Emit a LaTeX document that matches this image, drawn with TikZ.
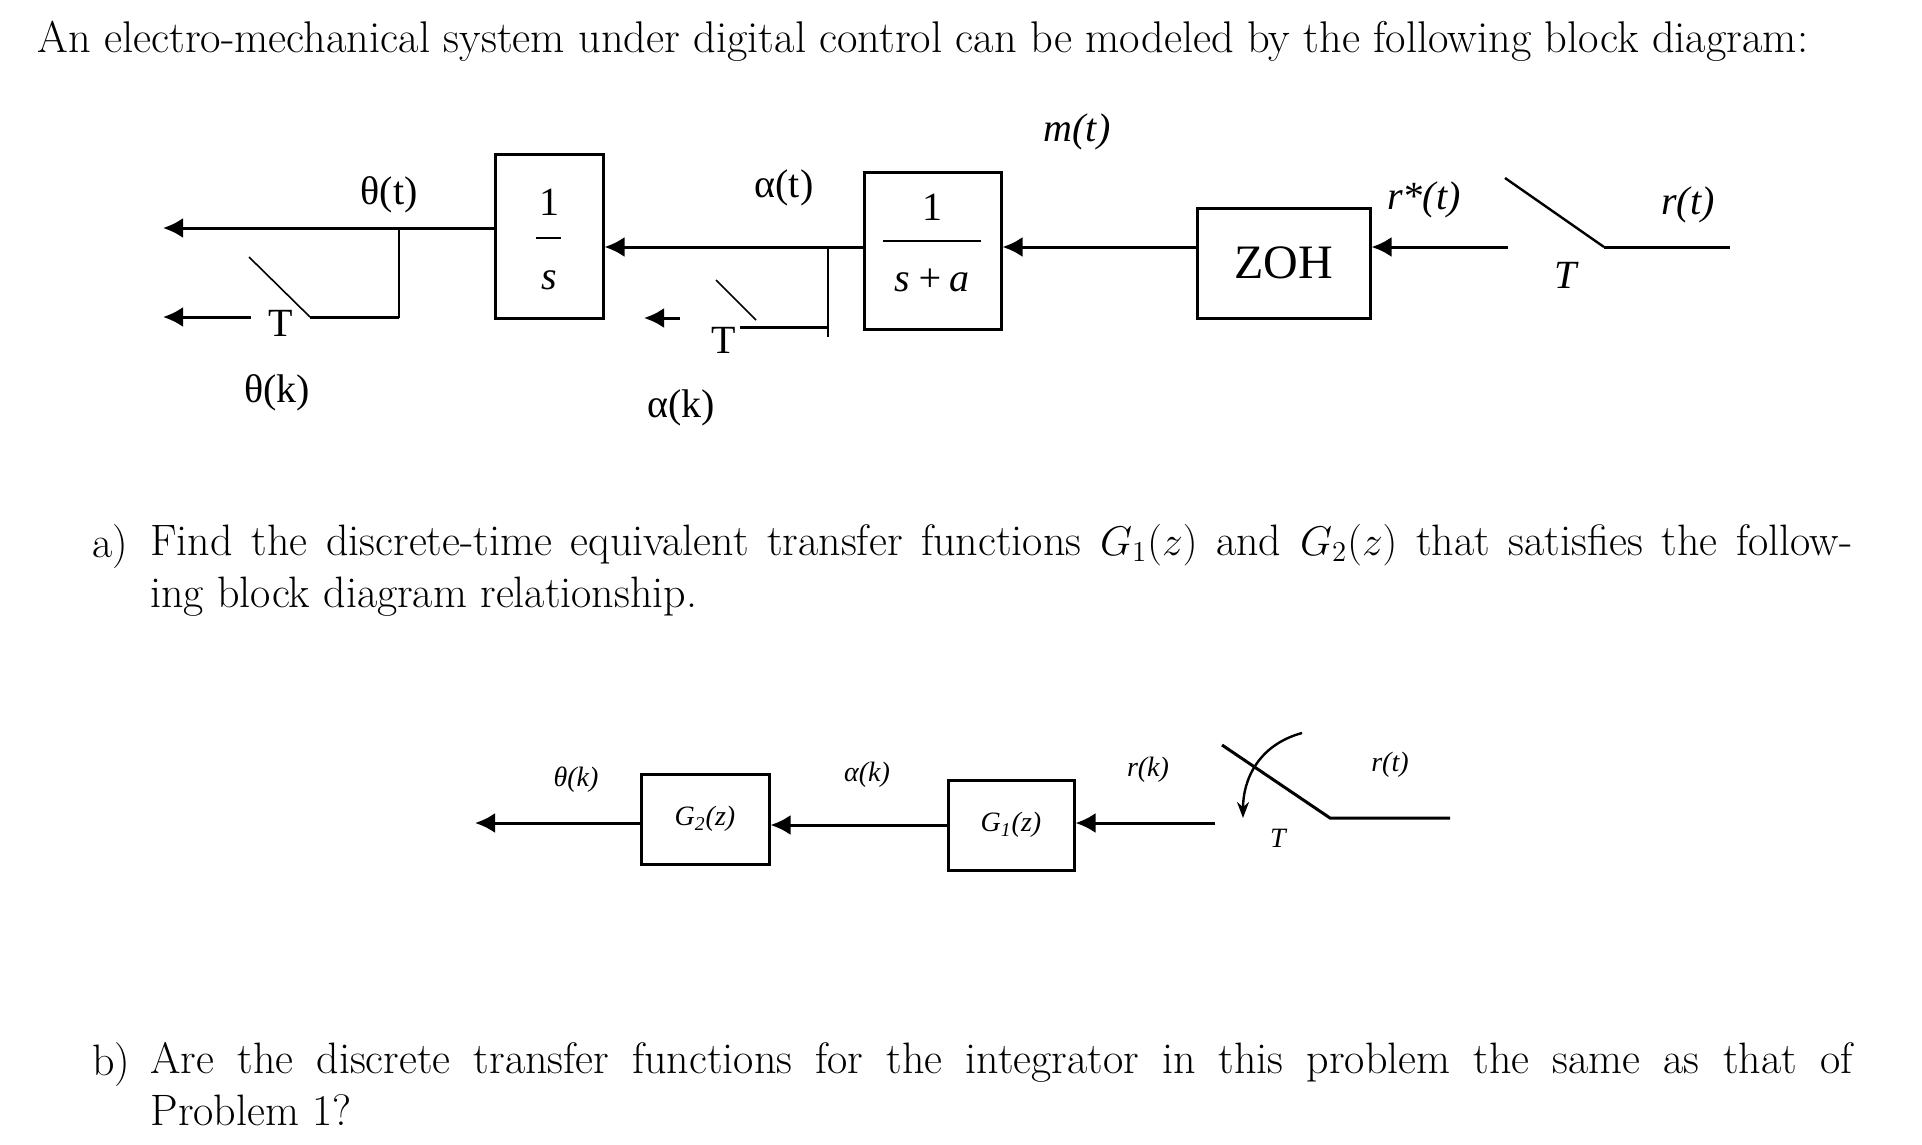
\documentclass[tikz,border=0pt]{standalone}
\usepackage{fontspec}
\newfontfamily\tms{Liberation Serif}
\usetikzlibrary{arrows.meta}
\begin{document}
\begin{tikzpicture}[x=0.5pt,y=-0.5pt,
  box/.style={draw,line width=1.5pt,inner sep=0pt},
  sig/.style={line width=1.5pt},
  thin/.style={line width=0.8pt},
  arr/.style={sig,-{Latex[length=10pt,width=10pt]}},
  lab/.style={font=\tms\fontsize{20}{22}\selectfont,inner sep=0pt},
  ilab/.style={font=\tms\itshape\fontsize{20}{22}\selectfont,inner sep=0pt},
  slab/.style={font=\tms\itshape\fontsize{14}{16}\selectfont,inner sep=0pt},
  txt/.style={font=\fontsize{22}{26}\selectfont,inner sep=0pt,anchor=north west,text width=851pt,align=justify}]
\useasboundingbox (0,0) rectangle (1922,1145);
% title
\node[font=\fontsize{22.2}{26}\selectfont,inner sep=0pt,anchor=west] (title) at (37,41) {An electro-mechanical system under digital control can be modeled by the following block diagram:};
% boxes
\node[box,minimum width=54pt,minimum height=81.5pt] (s) at (549,236.5) {};
\node[lab] (s1) at (549,202) {1};
\node[lab,font=\tms\itshape\fontsize{20}{22}\selectfont] (s2) at (549,280) {s};
\coordinate (sl1) at (536,238); \coordinate (sl2) at (561,238);
\draw[thin] (sl1) -- (sl2);
\node[box,minimum width=68.5pt,minimum height=78.5pt] (sa) at (932.5,250.5) {};
\node[lab] (sa1) at (932,207) {1};
\node[ilab] (sa2) at (932,280) {s\,+\,a};
\coordinate (sal1) at (883,241); \coordinate (sal2) at (981,241);
\draw[thin] (sal1) -- (sal2);
\node[box,minimum width=86.5pt,minimum height=55pt,font=\tms\fontsize{24}{26}\selectfont] (zoh) at (1283.5,263) {ZOH};
% coordinates
\coordinate (tipT) at (163,228);
\coordinate (br1) at (399,228);
\coordinate (br1b) at (399,317);
\coordinate (sw1a) at (310,317);
\coordinate (sw1b) at (249,257);
\coordinate (sw1c) at (251,317);
\coordinate (tipK) at (163,317);
\coordinate (br2) at (828,247);
\coordinate (br2b) at (828,337);
\coordinate (br2c) at (828,327);
\coordinate (sw2a) at (740,327);
\coordinate (sw2b) at (716,280);
\coordinate (sw2c) at (756,320);
\coordinate (ar2s) at (680,318);
\coordinate (ar2t) at (644,318);
\coordinate (rs) at (1508,247);
\coordinate (sw3a) at (1505,178);
\coordinate (sw3b) at (1604,247);
\coordinate (sw3c) at (1730,247);
% connectors top
\draw[arr] ([yshift=4.25pt]s.west) -- (tipT);
\draw[thin] (br1) -- (br1b) -- (sw1a);
\draw[sig] (sw1a) -- (br1b);
\draw[thin] (sw1b) -- (sw1a);
\draw[arr] (sw1c) -- (tipK);
\draw[arr] (sa.west |- br2) -- (s.east |- br2);
\draw[thin] (br2) -- (br2b);
\draw[sig] (br2c) -- (sw2a);
\draw[thin] (sw2b) -- (sw2c);
\draw[arr] (ar2s) -- (ar2t);
\draw[arr] (zoh.west |- br2) -- (sa.east |- br2);
\draw[arr] (rs) -- (zoh.east |- rs);
\draw[thin,line width=1.2pt] (sw3a) -- (sw3b);
\draw[sig] (sw3b) -- (sw3c);
% labels top
\node[lab] (lth) at (389,195) {θ(t)};
\node[lab] (T1) at (281,323) {T};
\node[lab] (lthk) at (277,393) {θ(k)};
\node[lab] (lal) at (784,188) {α(t)};
\node[lab] (T2) at (724,340) {T};
\node[lab] (lalk) at (681,408) {α(k)};
\node[ilab] (lm) at (1077,132) {m(t)};
\node[ilab] (lrs) at (1424,200) {r*(t)};
\node[ilab] (T3) at (1566,275) {T};
\node[ilab] (lr) at (1688,205) {r(t)};
% part a
\node[inner sep=0pt,anchor=north west,font=\fontsize{22}{26}\selectfont] (pa) at (92,524) {a)};
\node[txt] (ta) at (150,524) {Find the discrete-time equivalent transfer functions $G_1(z)$ and $G_2(z)$ that satisfies the follow-\linebreak ing block diagram relationship.};
% bottom diagram
\node[box,minimum width=64pt,minimum height=45pt,font=\tms\itshape\fontsize{14}{16}\selectfont] (g2) at (705,819) {G\textsubscript{2}(z)};
\node[box,minimum width=63pt,minimum height=45pt,font=\tms\itshape\fontsize{14}{16}\selectfont] (g1) at (1011,825) {G\textsubscript{1}(z)};
\coordinate (tip3) at (475,823);
\coordinate (rk) at (1215,823);
\coordinate (sw4a) at (1222,745);
\coordinate (sw4b) at (1330,818);
\coordinate (sw4c) at (1450,818);
\coordinate (cv1) at (1302,733);
\coordinate (cv2) at (1243,818);
\draw[arr] (g2.west |- tip3) -- (tip3);
\draw[arr] (g1.west) -- (g2.east |- g1.west);
\draw[arr] (rk) -- (g1.east |- rk);
\draw[sig] (sw4a) -- (sw4b) -- (sw4c);
\draw[thin,line width=1.2pt,-{Stealth[length=8pt,width=6pt]}] (cv1) .. controls (1258,745) and (1243,780) .. (cv2);
\node[slab] (lthk2) at (576,780) {θ(k)};
\node[slab] (lalk2) at (867,775) {α(k)};
\node[slab] (lrk) at (1148,770) {r(k)};
\node[slab] (lrt2) at (1390,765) {r(t)};
\node[slab] (T4) at (1278,838) {T};
% part b
\node[inner sep=0pt,anchor=north west,font=\fontsize{22}{26}\selectfont] (pb) at (92,1042) {b)};
\node[txt] (tb) at (150,1042) {Are the discrete transfer functions for the integrator in this problem the same as that of\linebreak Problem 1?};
\end{tikzpicture}
\end{document}
